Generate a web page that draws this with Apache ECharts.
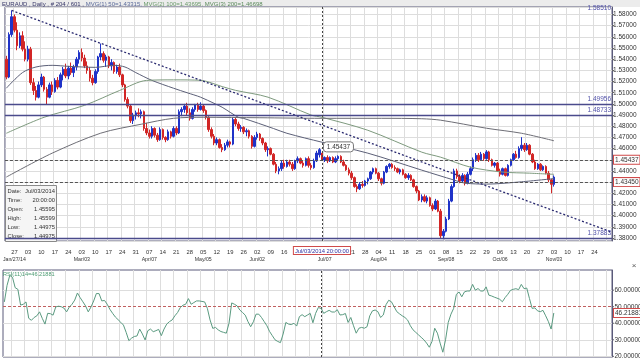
<!DOCTYPE html>
<html><head><meta charset="utf-8">
<script src="https://cdn.jsdelivr.net/npm/echarts@6/dist/echarts.min.js"></script>
<style>html,body{margin:0;padding:0;background:#fff}#c{width:640px;height:360px}</style>
</head><body><div id="c"></div>
<script>
// ---------- data ----------
const firstDate = '2014-01-22';
const lastLabelDate = '2014-11-24';
const opens = [1.5400,1.5240,1.5620,1.5780,1.5660,1.5520,1.5610,1.5490,1.5400,1.5490,
1.5190,1.5120,1.5060,1.5170,1.5240,1.5130,1.5060,1.5170,1.5110,1.5210,
1.5150,1.5260,1.5310,1.5250,1.5320,1.5280,1.5330,1.5400,1.5460,1.5410,
1.5340,1.5300,1.5230,1.5190,1.5290,1.5420,1.5450,1.5390,1.5420,1.5340,
1.5370,1.5290,1.5330,1.5260,1.5170,1.5040,1.4980,1.4850,1.4900,1.4920,
1.4910,1.4930,1.4780,1.4740,1.4710,1.4780,1.4720,1.4680,1.4770,1.4700,
1.4680,1.4750,1.4710,1.4780,1.4740,1.4930,1.4950,1.4980,1.4920,1.4870,
1.4950,1.4990,1.4950,1.4980,1.4940,1.4880,1.4770,1.4710,1.4650,1.4680,
1.4610,1.4590,1.4630,1.4660,1.4640,1.4860,1.4820,1.4780,1.4790,1.4750,
1.4760,1.4710,1.4620,1.4700,1.4730,1.4690,1.4650,1.4590,1.4600,1.4550,
1.4460,1.4400,1.4420,1.4470,1.4440,1.4480,1.4460,1.4420,1.4490,1.4510,
1.4470,1.4450,1.4510,1.4450,1.4430,1.4490,1.4545,1.45595,1.4498,1.4520,
1.4490,1.4520,1.4480,1.4510,1.4530,1.4480,1.4450,1.4410,1.4380,1.4340,
1.4260,1.4240,1.4280,1.4270,1.4310,1.4330,1.4390,1.4420,1.4380,1.4330,
1.4290,1.4390,1.4440,1.4460,1.4430,1.4420,1.4390,1.4410,1.4370,1.4340,
1.4360,1.4320,1.4260,1.4220,1.4140,1.4170,1.4130,1.4160,1.4090,1.4060,
1.4130,1.4040,1.3820,1.3860,1.3970,1.4130,1.4260,1.4400,1.4350,1.4310,
1.4360,1.4290,1.4370,1.4420,1.4500,1.4540,1.4500,1.4550,1.4510,1.4570,
1.4500,1.4450,1.4470,1.4400,1.4370,1.4420,1.4360,1.4450,1.4500,1.4550,
1.4520,1.4600,1.4630,1.4590,1.4630,1.4550,1.4480,1.4420,1.4460,1.4410,
1.4440,1.4380,1.4320,1.4280];
const highs = [1.5430,1.5640,1.5836,1.5800,1.5730,1.5640,1.5650,1.5560,1.5520,1.5510,
1.5230,1.5160,1.5200,1.5270,1.5250,1.5150,1.5190,1.5200,1.5230,1.5240,
1.5280,1.5330,1.5360,1.5340,1.5370,1.5350,1.5420,1.5480,1.5496,1.5440,
1.5380,1.5330,1.5260,1.5310,1.5430,1.5540,1.5470,1.5440,1.5430,1.5400,
1.5380,1.5350,1.5360,1.5270,1.5180,1.5060,1.4990,1.4920,1.4940,1.4960,
1.4950,1.4940,1.4830,1.4770,1.4800,1.4790,1.4740,1.4790,1.4780,1.4710,
1.4770,1.4760,1.4800,1.4800,1.4950,1.4970,1.5000,1.5010,1.4960,1.4970,
1.5000,1.5010,1.5014,1.4990,1.4950,1.4890,1.4790,1.4730,1.4700,1.4690,
1.4640,1.4650,1.4680,1.4670,1.4880,1.4880,1.4840,1.4810,1.4800,1.4780,
1.4770,1.4720,1.4720,1.4750,1.4740,1.4700,1.4660,1.4620,1.4610,1.4560,
1.4480,1.4440,1.4490,1.4500,1.4500,1.4500,1.4480,1.4500,1.4530,1.4520,
1.4490,1.4520,1.4530,1.4470,1.4510,1.4580,1.4604,1.45599,1.4530,1.4540,
1.4530,1.4530,1.4530,1.4540,1.4540,1.4500,1.4460,1.4430,1.4400,1.4350,
1.4280,1.4300,1.4310,1.4320,1.4340,1.4400,1.4430,1.4430,1.4390,1.4340,
1.4400,1.4450,1.4470,1.4470,1.4450,1.4430,1.4420,1.4420,1.4380,1.4380,
1.4370,1.4330,1.4270,1.4230,1.4190,1.4190,1.4180,1.4170,1.4110,1.4150,
1.4140,1.4060,1.3880,1.3990,1.4150,1.4280,1.4420,1.4420,1.4370,1.4380,
1.4370,1.4390,1.4440,1.4520,1.4560,1.4560,1.4570,1.4560,1.4586,1.4580,
1.4510,1.4480,1.4480,1.4420,1.4430,1.4430,1.4460,1.4510,1.4560,1.4580,
1.4620,1.4702,1.4650,1.4650,1.4640,1.4560,1.4500,1.4470,1.4470,1.4450,
1.4450,1.4400,1.4330,1.4360];
const lows = [1.5220,1.5230,1.5600,1.5640,1.5480,1.5500,1.5470,1.5380,1.5380,1.5170,
1.5080,1.5030,1.5050,1.5150,1.5110,1.4996,1.5050,1.5080,1.5100,1.5130,
1.5140,1.5210,1.5230,1.5220,1.5260,1.5240,1.5300,1.5360,1.5380,1.5320,
1.5270,1.5200,1.5166,1.5180,1.5270,1.5390,1.5370,1.5330,1.5320,1.5300,
1.5270,1.5270,1.5240,1.5150,1.5020,1.4960,1.4830,1.4820,1.4860,1.4880,
1.4870,1.4760,1.4720,1.4690,1.4690,1.4700,1.4660,1.4670,1.4680,1.4657,
1.4670,1.4690,1.4700,1.4720,1.4730,1.4890,1.4920,1.4900,1.4850,1.4860,
1.4930,1.4930,1.4940,1.4920,1.4860,1.4750,1.4690,1.4630,1.4630,1.4600,
1.4568,1.4580,1.4610,1.4610,1.4630,1.4800,1.4760,1.4750,1.4730,1.4710,
1.4690,1.4600,1.4610,1.4680,1.4670,1.4630,1.4570,1.4530,1.4540,1.4450,
1.4380,1.4370,1.4400,1.4420,1.4430,1.4440,1.4400,1.4410,1.4470,1.4460,
1.4430,1.4440,1.4430,1.4410,1.4420,1.4480,1.4520,1.44975,1.4480,1.4470,
1.4480,1.4470,1.4470,1.4490,1.4470,1.4440,1.4400,1.4360,1.4320,1.4250,
1.4210,1.4230,1.4250,1.4260,1.4280,1.4320,1.4370,1.4370,1.4310,1.4270,
1.4280,1.4380,1.4420,1.4420,1.4400,1.4380,1.4370,1.4360,1.4330,1.4320,
1.4310,1.4250,1.4200,1.4130,1.4120,1.4120,1.4110,1.4080,1.4040,1.4050,
1.4030,1.3800,1.37883,1.3850,1.3960,1.4120,1.4250,1.4330,1.4290,1.4300,
1.4270,1.4280,1.4360,1.4400,1.4480,1.4480,1.4490,1.4490,1.4500,1.4480,
1.4440,1.4430,1.4390,1.4350,1.4360,1.4350,1.4350,1.4440,1.4490,1.4510,
1.4510,1.4580,1.4570,1.4580,1.4540,1.4470,1.4410,1.4410,1.4400,1.4400,
1.4370,1.4300,1.4200,1.4260];
const closes = [1.5240,1.5620,1.5780,1.5660,1.5520,1.5610,1.5490,1.5400,1.5490,1.5190,
1.5120,1.5060,1.5170,1.5240,1.5130,1.5060,1.5170,1.5110,1.5210,1.5150,
1.5260,1.5310,1.5250,1.5320,1.5280,1.5330,1.5400,1.5460,1.5410,1.5340,
1.5300,1.5230,1.5190,1.5290,1.5420,1.5450,1.5390,1.5420,1.5340,1.5370,
1.5290,1.5330,1.5260,1.5170,1.5040,1.4980,1.4850,1.4900,1.4920,1.4910,
1.4930,1.4780,1.4740,1.4710,1.4780,1.4720,1.4680,1.4770,1.4700,1.4680,
1.4750,1.4710,1.4780,1.4740,1.4930,1.4950,1.4980,1.4920,1.4870,1.4950,
1.4990,1.4950,1.4980,1.4940,1.4880,1.4770,1.4710,1.4650,1.4680,1.4610,
1.4590,1.4630,1.4660,1.4640,1.4860,1.4820,1.4780,1.4790,1.4750,1.4760,
1.4710,1.4620,1.4700,1.4730,1.4690,1.4650,1.4590,1.4600,1.4550,1.4460,
1.4400,1.4420,1.4470,1.4440,1.4480,1.4460,1.4420,1.4490,1.4510,1.4470,
1.4450,1.4510,1.4450,1.4430,1.4490,1.4560,1.4590,1.44975,1.4520,1.4490,
1.4520,1.4480,1.4510,1.4530,1.4480,1.4450,1.4410,1.4380,1.4340,1.4260,
1.4240,1.4280,1.4270,1.4310,1.4330,1.4390,1.4420,1.4380,1.4330,1.4290,
1.4390,1.4440,1.4460,1.4430,1.4420,1.4390,1.4410,1.4370,1.4340,1.4360,
1.4320,1.4260,1.4220,1.4140,1.4170,1.4130,1.4160,1.4090,1.4060,1.4130,
1.4040,1.3820,1.3860,1.3970,1.4130,1.4260,1.4400,1.4350,1.4310,1.4360,
1.4290,1.4370,1.4420,1.4500,1.4540,1.4500,1.4550,1.4510,1.4570,1.4500,
1.4450,1.4470,1.4400,1.4370,1.4420,1.4360,1.4450,1.4500,1.4550,1.4520,
1.4600,1.4630,1.4590,1.4630,1.4550,1.4480,1.4420,1.4460,1.4410,1.4440,
1.4380,1.4320,1.4280,1.4345];
const rsiValues = [52.9,62.9,68.9,67.8,61.5,60.5,51.0,51.5,52.9,43.0,
41.8,43.5,44.5,46.9,43.0,39.5,46.0,45.8,44.9,49.9,
50.3,50.0,49.2,46.9,49.8,51.5,54.0,58.3,55.5,53.0,
50.5,46.9,49.8,53.5,58.0,57.9,53.5,53.8,51.5,48.4,
46.0,43.8,42.2,40.6,38.9,34.5,29.5,31.0,32.0,32.3,
36.5,33.5,29.9,35.5,36.5,34.9,35.5,36.3,32.5,36.5,
39.5,41.0,42.0,44.5,46.5,49.5,50.9,51.5,54.9,51.5,
52.5,53.5,53.5,53.2,52.9,49.0,42.0,36.9,37.5,36.0,
35.0,34.5,34.0,40.0,52.3,51.5,50.5,48.0,46.5,44.9,
41.0,37.9,40.9,45.5,45.5,43.5,41.0,38.5,35.0,32.5,
30.0,29.0,28.3,33.5,40.5,39.5,39.2,40.0,38.3,44.0,
45.2,44.0,45.0,46.0,40.3,46.0,49.5,49.0,46.0,47.0,
47.8,46.8,46.8,48.2,45.0,45.2,45.9,40.5,43.5,38.5,
34.0,37.0,37.5,37.0,37.9,44.5,47.5,48.0,47.0,43.5,
45.0,51.2,53.9,53.0,50.0,47.0,45.7,44.5,43.5,41.9,
38.5,36.0,34.5,33.0,31.5,30.0,28.0,25.5,29.0,37.0,
34.0,28.0,22.5,30.0,40.5,45.5,49.0,57.5,58.9,56.0,
59.0,59.5,59.5,63.5,60.0,61.0,59.5,59.5,62.0,57.0,
56.5,55.8,55.2,54.5,53.0,55.5,57.5,59.9,60.5,60.9,
60.3,63.5,60.9,61.3,55.0,49.0,49.3,47.5,47.0,47.8,
44.5,41.0,36.5,46.21881];
// moving averages, read at sample bars (bar index, value)
const ma50Idx = [0,6,11,17,23,33,40,44,48,54,62,67,72,77,80,86,88,99,104,117,134,154,166,170,178,191,203];
const ma50Val = [1.5140,1.5280,1.5330,1.5345,1.5336,1.5327,1.5345,1.5330,1.5280,1.5210,1.5140,1.5100,1.5060,1.5005,1.4970,1.4880,1.4870,1.4780,1.4737,1.4657,1.4559,1.4407,1.4318,1.4291,1.4282,1.4303,1.43315];
const ma100Idx = [0,14,29,42,52,62,72,80,85,97,113,117,134,154,161,172,184,194,203];
const ma100Val = [1.4737,1.4880,1.4987,1.5120,1.5210,1.5215,1.5211,1.5155,1.5121,1.5060,1.4900,1.4880,1.4764,1.4568,1.4523,1.4434,1.4390,1.4380,1.43695];
const ma200Idx = [0,17,35,50,62,73,94,117,139,154,161,178,191,203];
const ma200Val = [1.4345,1.4559,1.4738,1.4818,1.4871,1.4880,1.4876,1.4871,1.4871,1.4867,1.4854,1.4782,1.4737,1.46698];
const trendIdx = [2, 224];
const trendVal = [1.5836, 1.3856];
const levelPrices = [1.58510, 1.49956, 1.48733, 1.37883];
const crossPrices = [1.45437, 1.43450];
const cursorBar = 117;
const rsiLast = 46.21881;
const rsiTickValues = [20, 30, 40, 50, 60];
const rsiGridValues = [20, 30, 40, 60];
const monthLabelDates = ['2014-01-27','2014-03-03','2014-04-07','2014-05-05','2014-06-02','2014-07-07','2014-08-04','2014-09-08','2014-10-06','2014-11-03'];
const monthLabelTexts = ['Jan/27/14','Mar/03','Apr/07','May/05','Jun/02','Jul/07','Aug/04','Sep/08','Oct/06','Nov/03'];
const infoLabels = ['Date:','Time:','Open:','High:','Low:','Close:'];
const infoValues = ['Jul/03/2014','20:00:00','1.45595','1.45599','1.44975','1.44975'];
const totalSlots = 225;

// ---------- build ----------
const FONT = '"Liberation Sans", Arial, sans-serif';
const cats = [];
{ let d = new Date(firstDate + 'T00:00:00Z');
  while (cats.length < totalSlots) { const w = d.getUTCDay(); if (w > 0 && w < 6) cats.push(d.toISOString().slice(0,10)); d.setUTCDate(d.getUTCDate() + 1); } }
const isMonday = (i) => new Date(cats[i] + 'T00:00:00Z').getUTCDay() === 1;
const isMonthLabel = (i) => monthLabelDates.indexOf(cats[i]) >= 0;
const candles = opens.map((o, i) => [o, closes[i], lows[i], highs[i]]);
const pairs = (ix, vs) => ix.map((x, k) => [x, vs[k]]);
const GRID_C = '#dddddd';
const BULL = '#1f33c8', BEAR = '#d22626';
const LEVEL_TXT = '#5050a8';

const chart = echarts.init(document.getElementById('c'), null, {width: 640, height: 360});
const redBox = {backgroundColor: '#fff', borderColor: '#d04a4a', borderWidth: 1, padding: [1, 1, 0, 1], color: '#333', fontSize: 6.5, fontFamily: FONT};

const option = {
  animation: false,
  backgroundColor: '#ffffff',
  title: {
    left: 2, top: 1, padding: 0,
    text: '{a|EURAUD , Daily , # 204 / 601 ,} {b|MVG(1) 50=1.43315,} {c|MVG(2) 100=1.43695,} {d|MVG(3) 200=1.46698}',
    textStyle: {fontSize: 6, fontFamily: FONT, fontWeight: 'normal',
      rich: {a: {color: '#333366', fontSize: 6, fontFamily: FONT}, b: {color: '#5a6a9a', fontSize: 6, fontFamily: FONT}, c: {color: '#6a9a6a', fontSize: 6, fontFamily: FONT}, d: {color: '#5a8a5a', fontSize: 6, fontFamily: FONT}}}
  },
  grid: [
    {left: 3, right: 28, top: 7, height: 234, show: true, borderColor: '#5a5a7a', borderWidth: 1, backgroundColor: '#fff'},
    {left: 3, right: 28, top: 270, height: 87, show: true, borderColor: '#5a5a7a', borderWidth: 1, backgroundColor: '#fff'}
  ],
  xAxis: [
    {type: 'category', gridIndex: 0, data: cats, boundaryGap: true,
     axisLine: {show: false}, axisTick: {show: false},
     splitLine: {show: true, interval: isMonday, lineStyle: {color: GRID_C, width: 1}},
     axisLabel: {interval: isMonday, showMinLabel: true, showMaxLabel: true, margin: 8.5, fontSize: 5.8, color: '#333', fontFamily: FONT,
       formatter: v => (v > lastLabelDate ? '' : v.slice(8, 10))}},
    {type: 'category', gridIndex: 1, data: cats, boundaryGap: true,
     axisLine: {show: false}, axisTick: {show: false}, axisLabel: {show: false},
     splitLine: {show: true, interval: isMonday, lineStyle: {color: GRID_C, width: 1}}},
    {type: 'category', gridIndex: 0, data: cats, boundaryGap: true, position: 'bottom', offset: 0,
     axisLine: {show: false}, axisTick: {show: false}, splitLine: {show: false},
     axisLabel: {interval: isMonthLabel, showMinLabel: true, showMaxLabel: true, margin: 16.5, fontSize: 5.2, color: '#333', fontFamily: FONT,
       formatter: v => { const k = monthLabelDates.indexOf(v); return k >= 0 ? monthLabelTexts[k] : ''; }}}
  ],
  yAxis: [
    {type: 'value', gridIndex: 0, position: 'right', min: 1.3773, max: 1.5867, splitNumber: 21,
     axisLine: {show: true, lineStyle: {color: '#5a5a7a'}}, axisTick: {show: true, length: 2, lineStyle: {color: '#666'}},
     splitLine: {show: true, lineStyle: {color: GRID_C}},
     axisLabel: {margin: 1, fontSize: 6.5, color: '#333', fontFamily: FONT, showMinLabel: false, showMaxLabel: false,
       formatter: v => (Math.abs(v * 100 - Math.round(v * 100)) < 1e-6 ? v.toFixed(5) : '')}},
    {type: 'value', gridIndex: 1, position: 'right', min: 19.6, max: 72.2,
     axisLine: {show: true, lineStyle: {color: '#5a5a7a'}}, axisTick: {show: false},
     splitLine: {show: false}, axisLabel: {show: false}}
  ],
  series: [
    {type: 'candlestick', xAxisIndex: 0, yAxisIndex: 0, data: candles, barWidth: 2,
     itemStyle: {color: BULL, color0: BEAR, borderColor: BULL, borderColor0: BEAR, borderWidth: 1},
     markLine: {silent: true, symbol: ['none', 'none'], animation: false,
       data: [
         ...levelPrices.map((p, k) => ({yAxis: p, lineStyle: {color: '#4a4a8c', width: k === 0 ? 2 : 1.3, type: 'solid'},
           label: {show: k !== 0, position: 'insideEndTop', distance: 1, formatter: p.toFixed(5), color: LEVEL_TXT, fontSize: 6.5, fontFamily: FONT}})),
         ...crossPrices.map(p => ({yAxis: p, lineStyle: {color: '#555', width: 1, type: [3, 2]},
           label: {show: true, position: 'end', distance: 2, formatter: p.toFixed(5), ...redBox}})),
         {xAxis: cursorBar, lineStyle: {color: '#444', width: 1, type: [2, 2]},
          label: {show: true, position: 'start', distance: 6, formatter: 'Jul/03/2014 20:00:00', ...redBox, fontSize: 5.8, color: '#3030a0'}}
       ]}},
    {type: 'line', name: 'MA50', xAxisIndex: 0, yAxisIndex: 0, data: pairs(ma50Idx, ma50Val), smooth: 0.3, showSymbol: false, lineStyle: {color: '#5c6078', width: 1}},
    {type: 'line', name: 'MA100', xAxisIndex: 0, yAxisIndex: 0, data: pairs(ma100Idx, ma100Val), smooth: 0.3, showSymbol: false, lineStyle: {color: '#7e9a7e', width: 1}},
    {type: 'line', name: 'MA200', xAxisIndex: 0, yAxisIndex: 0, data: pairs(ma200Idx, ma200Val), smooth: 0.3, showSymbol: false, lineStyle: {color: '#6e6e76', width: 1}},
    {type: 'line', name: 'trend', xAxisIndex: 0, yAxisIndex: 0, data: pairs(trendIdx, trendVal), showSymbol: false, lineStyle: {color: '#2a2a70', width: 1.3, type: [2, 2]}},
    {type: 'line', name: 'RSI', xAxisIndex: 1, yAxisIndex: 1, data: rsiValues, showSymbol: false, z: 5, lineStyle: {color: '#5a9a80', width: 1},
     markLine: {silent: true, symbol: ['none', 'none'], animation: false, z: 1,
       data: [
         ...rsiGridValues.map(v => ({yAxis: v, lineStyle: {color: GRID_C, width: 1, type: 'solid'}, label: {show: false}})),
         {yAxis: 50, lineStyle: {color: '#c06060', width: 1, type: [3, 2]}, label: {show: false}},
         {xAxis: cursorBar, lineStyle: {color: '#444', width: 1, type: [2, 2]}, label: {show: false}}
       ]}}
  ]
};
chart.setOption(option);

// overlays: title strip, data window, cursor callout, RSI caption and scale, top level label
const cp = chart.convertToPixel({gridIndex: 0}, [cursorBar, crossPrices[0]]);
const topLvl = chart.convertToPixel({gridIndex: 0}, [totalSlots - 1, levelPrices[0]]);
const rsiLastY = chart.convertToPixel({gridIndex: 1}, [0, rsiLast])[1];
const infoEls = [{type: 'rect', shape: {x: 5.5, y: 185.5, width: 51, height: 56}, style: {fill: '#f5f5f5', stroke: '#8a8a8a', lineWidth: 1}}];
infoLabels.forEach((t, k) => {
  infoEls.push({type: 'text', style: {text: t, x: 7.5, y: 191.7 + k * 9, fill: '#333', fontSize: 5.8, fontFamily: FONT, verticalAlign: 'middle'}});
  infoEls.push({type: 'text', style: {text: infoValues[k], x: 55, y: 191.7 + k * 9, fill: '#333', fontSize: 5.8, fontFamily: FONT, align: 'right', verticalAlign: 'middle'}});
});
const rsiScaleEls = [];
rsiTickValues.forEach(v => {
  const py = chart.convertToPixel({gridIndex: 1}, [0, v])[1];
  rsiScaleEls.push({type: 'line', shape: {x1: 612, y1: py, x2: 614, y2: py}, style: {stroke: '#666', lineWidth: 1}});
  rsiScaleEls.push({type: 'text', style: {text: v.toFixed(5), x: 614.5, y: py, verticalAlign: 'middle', fill: '#333', fontSize: 6.5, fontFamily: FONT}});
});
rsiScaleEls.push({type: 'text', z2: 10, style: {text: rsiLast.toFixed(5), x: 614, y: rsiLastY, verticalAlign: 'middle', fill: '#333', fontSize: 6.5, fontFamily: FONT,
  backgroundColor: '#fff', borderColor: '#d04a4a', borderWidth: 1, padding: [1, 1, 0, 1]}});
chart.setOption({graphic: [
  {type: 'rect', z: -10, shape: {x: 0, y: 0, width: 640, height: 7}, style: {fill: '#ececec'}},
  {type: 'group', z: 100, children: infoEls},
  {type: 'group', z: 50, children: rsiScaleEls},
  {type: 'rect', z: 100, shape: {x: cp[0] + 1.5, y: cp[1] - 13, width: 30, height: 10, r: 3}, style: {fill: '#fff', stroke: '#777', lineWidth: 1}},
  {type: 'text', z: 101, style: {text: crossPrices[0].toFixed(5), x: cp[0] + 16.5, y: cp[1] - 8, align: 'center', verticalAlign: 'middle', fill: '#333', fontSize: 6.5, fontFamily: FONT}},
  {type: 'text', z: 100, style: {text: levelPrices[0].toFixed(5), x: 611, y: topLvl[1] - 0.5, align: 'right', verticalAlign: 'middle', fill: LEVEL_TXT, fontSize: 6.5, fontFamily: FONT}},
  {type: 'text', z: 100, style: {text: 'RSI(11)14=' + rsiLast.toFixed(5), x: 3, y: 274, verticalAlign: 'middle', fill: '#4a9a70', fontSize: 5.6, fontFamily: FONT}},
  {type: 'text', z: 100, style: {text: '×', x: 634, y: 266, align: 'center', verticalAlign: 'middle', fill: '#555', fontSize: 8, fontFamily: FONT}}
]});
</script></body></html>
